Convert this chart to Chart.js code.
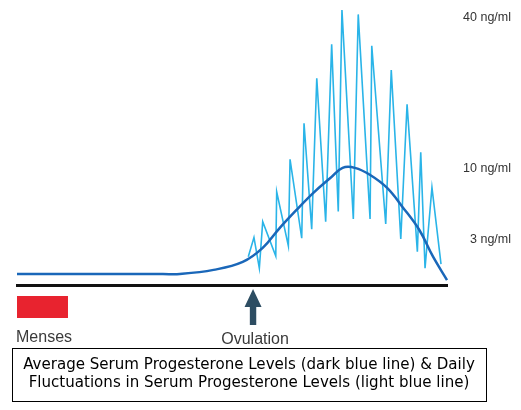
<!DOCTYPE html>
<html>
<head>
<meta charset="utf-8">
<script src="https://cdn.jsdelivr.net/npm/chart.js@4.4.1/dist/chart.umd.min.js"></script>
<style>
  html, body { margin: 0; padding: 0; background: #ffffff; }
  #wrap { width: 521px; height: 410px; position: relative; }
</style>
</head>
<body>
<div id="wrap"><canvas id="c" width="521" height="410"></canvas></div>
<script>
// ---- data (cycle day, relative level) ----
const avgDays   = [0, 9.5, 10.6, 12.8, 14.7, 16.0, 17.1, 18.2, 19.3, 20.4, 21.2, 22.0, 23.0, 24.1, 25.1, 26.2, 27.1, 28];
const avgLevels = [4.0, 4.0, 4.0, 5.5, 8.4, 13.5, 20.7, 27.3, 33.5, 38.9, 42.6, 42.6, 40.0, 35.3, 28.4, 20.0, 10.2, 1.8];

const dailyDays   = [15.06, 15.43, 15.78, 16.0, 16.85, 16.91, 17.67, 17.78, 18.54, 18.69, 19.19, 19.52, 20.10, 20.49, 20.92, 21.16, 21.90, 22.22, 22.99, 23.10, 24.01, 24.37, 24.99, 25.40, 26.07, 26.29, 26.57, 27.02, 27.61];
const dailyLevels = [10.3, 17.3, 6.1, 23.0, 10.5, 33.9, 14.2, 45.7, 17.0, 58.8, 20.3, 75.2, 23.0, 87.5, 26.7, 100, 24.0, 98.4, 24.0, 87.0, 22.2, 78.2, 16.7, 65.7, 12.1, 48.3, 6.1, 35.5, 7.6];

const tickValues = [97.1, 42.2, 16.4];
const tickLabels = ['40 ng/ml', '10 ng/ml', '3 ng/ml'];

const mensesRange   = [0, 3.32];
const ovulationDay  = 15.37;
const mensesLabel   = 'Menses';
const ovulationLabel = 'Ovulation';
const captionLines  = [
  'Average Serum Progesterone Levels (dark blue line) & Daily',
  'Fluctuations in Serum Progesterone Levels (light blue line)'
];

const toPoints = (xs, ys) => xs.map((x, i) => ({ x: x, y: ys[i] }));

const annotations = {
  id: 'annotations',
  afterDraw(chart) {
    const ctx = chart.ctx;
    const xs = chart.scales.x;
    const b = chart.chartArea.bottom;
    ctx.save();
    // menses bar
    const mx0 = xs.getPixelForValue(mensesRange[0]);
    const mx1 = xs.getPixelForValue(mensesRange[1]);
    ctx.fillStyle = '#e8232f';
    ctx.fillRect(mx0, b + 11, mx1 - mx0, 22);
    ctx.fillStyle = '#3a3a3a';
    ctx.font = '16px "Liberation Sans", Arial, sans-serif';
    ctx.textAlign = 'left';
    ctx.textBaseline = 'alphabetic';
    ctx.fillText(mensesLabel, mx0 - 1, b + 57);
    // ovulation arrow
    const ox = xs.getPixelForValue(ovulationDay);
    ctx.fillStyle = '#2d4d62';
    ctx.beginPath();
    ctx.moveTo(ox, b + 4);
    ctx.lineTo(ox + 8.5, b + 22);
    ctx.lineTo(ox + 3.2, b + 22);
    ctx.lineTo(ox + 3.2, b + 40);
    ctx.lineTo(ox - 3.2, b + 40);
    ctx.lineTo(ox - 3.2, b + 22);
    ctx.lineTo(ox - 8.5, b + 22);
    ctx.closePath();
    ctx.fill();
    ctx.fillStyle = '#3a3a3a';
    ctx.textAlign = 'center';
    ctx.fillText(ovulationLabel, ox + 2, b + 59);
    // caption box
    ctx.strokeStyle = '#000';
    ctx.lineWidth = 1;
    ctx.strokeRect(12.5, 348.5, 474, 53);
    let size = 13;
    ctx.font = size + 'px "DejaVu Sans", Verdana, sans-serif';
    const w = ctx.measureText(captionLines[0]).width;
    size = size * 452 / w;
    ctx.font = size.toFixed(2) + 'px "DejaVu Sans", Verdana, sans-serif';
    ctx.fillStyle = '#000';
    ctx.textAlign = 'center';
    ctx.fillText(captionLines[0], 249, 369);
    ctx.fillText(captionLines[1], 249, 387);
    ctx.restore();
  }
};

new Chart(document.getElementById('c'), {
  type: 'line',
  data: {
    datasets: [
      {
        label: 'Average',
        data: toPoints(avgDays, avgLevels),
        borderColor: '#1a67b9',
        borderWidth: 2.5,
        pointRadius: 0,
        tension: 0.4,
        fill: false,
        clip: false
      },
      {
        label: 'Daily',
        data: toPoints(dailyDays, dailyLevels),
        borderColor: '#2ab4e8',
        borderWidth: 1.6,
        pointRadius: 0,
        tension: 0,
        fill: false,
        clip: false
      }
    ]
  },
  options: {
    responsive: false,
    animation: false,
    events: [],
    layout: { padding: { left: 17, top: 10, right: 10, bottom: 0 } },
    plugins: { legend: { display: false }, tooltip: { enabled: false }, title: { display: false } },
    scales: {
      x: {
        type: 'linear',
        min: 0,
        max: 28,
        ticks: { display: false },
        grid: { display: false, drawTicks: false },
        border: { display: true, color: '#111111', width: 3 },
        afterFit(scale) { scale.height = 125; scale.paddingLeft = 0; scale.paddingRight = 0; }
      },
      y: {
        type: 'linear',
        position: 'right',
        min: 0,
        max: 100,
        grid: { display: false, drawTicks: false },
        border: { display: false },
        afterBuildTicks(scale) { scale.ticks = tickValues.map(v => ({ value: v })); },
        afterFit(scale) { scale.width = 64; scale.paddingTop = 0; scale.paddingBottom = 0; },
        ticks: {
          crossAlign: 'far',
          padding: 7,
          color: '#333333',
          font: { family: '"Liberation Sans", Arial, sans-serif', size: 12.5 },
          callback(value) {
            const i = tickValues.indexOf(value);
            return i >= 0 ? tickLabels[i] : '';
          }
        }
      }
    }
  },
  plugins: [annotations]
});
</script>
</body>
</html>
